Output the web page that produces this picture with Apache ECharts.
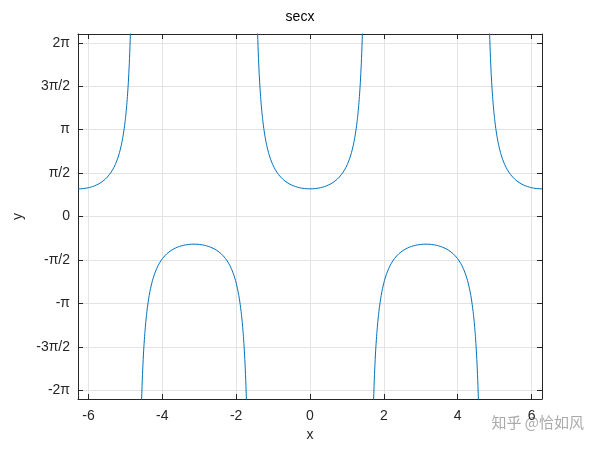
<!DOCTYPE html>
<html>
<head>
<meta charset="utf-8">
<script src="https://cdn.jsdelivr.net/npm/echarts@6/dist/echarts.min.js"></script>
</head>
<body style="margin:0">
<div id="main" style="width:600px;height:450px"></div>
<script>
var xTicks = [-6, -4, -2, 0, 2, 4, 6];
var yTicks = [-2 * Math.PI, -1.5 * Math.PI, -Math.PI, -0.5 * Math.PI, 0, 0.5 * Math.PI, Math.PI, 1.5 * Math.PI, 2 * Math.PI];
var yTickLabels = ['-2π', '-3π/2', '-π', '-π/2', '0', 'π/2', 'π', '3π/2', '2π'];

// y = sec(x) over [-2π, 2π], broken at the asymptotes
var curve = [];
var n = 2000;
for (var i = 0; i <= n; i++) {
    var x = -2 * Math.PI + 4 * Math.PI * i / n;
    var c = Math.cos(x);
    if (Math.abs(c) < 0.02) { curve.push([x, null]); continue; }
    curve.push([x, 1 / c]);
}

var myChart = echarts.init(document.getElementById('main'));
var axisCommon = {
    axisLine: { onZero: false, lineStyle: { color: '#262626' } },
    axisTick: { inside: true, length: 5, lineStyle: { color: '#262626' } },
    axisLabel: { color: '#262626', fontSize: 14, fontFamily: 'Liberation Sans' },
    splitLine: { show: true, lineStyle: { color: '#e3e3e3' } },
    nameTextStyle: { color: '#262626', fontSize: 14, fontFamily: 'Liberation Sans' }
};
myChart.setOption({
    animation: false,
    title: {
        text: 'secx', left: 'center', top: 5,
        textStyle: { fontSize: 14, fontWeight: 'normal', color: '#000', fontFamily: 'Liberation Sans' }
    },
    grid: { left: 78, right: 58, top: 34, bottom: 51 },
    xAxis: [echarts.util.merge({
        type: 'value', min: -2 * Math.PI, max: 2 * Math.PI,
        name: 'x', nameLocation: 'middle', nameGap: 28,
        axisTick: { customValues: xTicks },
        axisLabel: { customValues: xTicks, margin: 10 }
    }, axisCommon), {
        type: 'value', position: 'top', min: -2 * Math.PI, max: 2 * Math.PI,
        axisLine: { show: true, onZero: false, lineStyle: { color: '#262626' } },
        axisTick: { show: true, inside: true, length: 5, customValues: xTicks, lineStyle: { color: '#262626' } },
        axisLabel: { show: false }, splitLine: { show: false }
    }],
    yAxis: [echarts.util.merge({
        type: 'value', min: -6.6, max: 6.6,
        name: 'y', nameLocation: 'middle', nameGap: 52,
        axisTick: { customValues: yTicks },
        axisLabel: {
            customValues: yTicks, margin: 8,
            formatter: function (v) {
                for (var k = 0; k < yTicks.length; k++) if (Math.abs(v - yTicks[k]) < 1e-6) return yTickLabels[k];
                return '';
            }
        }
    }, axisCommon), {
        type: 'value', position: 'right', min: -6.6, max: 6.6,
        axisLine: { show: true, onZero: false, lineStyle: { color: '#262626' } },
        axisTick: { show: true, inside: true, length: 5, customValues: yTicks, lineStyle: { color: '#262626' } },
        axisLabel: { show: false }, splitLine: { show: false }
    }],
    graphic: [{
        type: 'text', right: 16, top: 415,
        style: { text: '知乎 @恰如风', fill: '#aaa', fontSize: 15, fontFamily: 'Noto Sans CJK SC' }
    }],
    series: [{
        type: 'line', data: curve, showSymbol: false, connectNulls: false,
        lineStyle: { color: '#0072BD', width: 1 }, clip: true
    }]
});
</script>
</body>
</html>
